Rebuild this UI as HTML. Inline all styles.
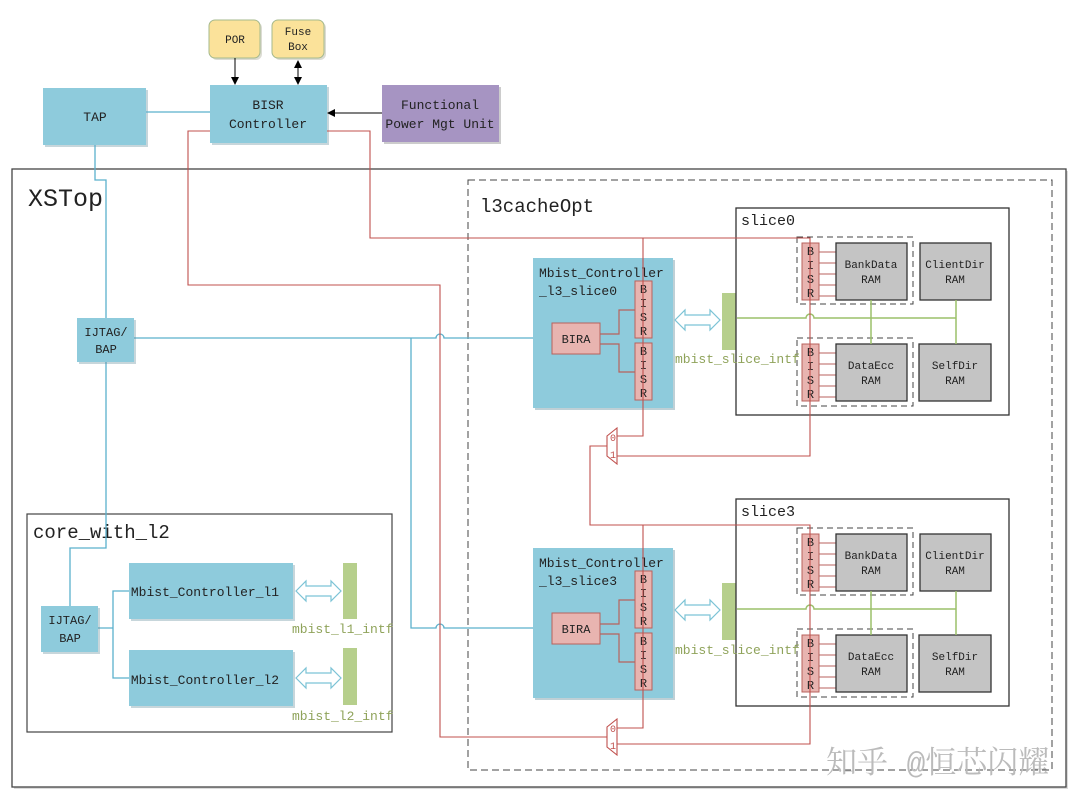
<!DOCTYPE html>
<html><head><meta charset="utf-8"><style>
html,body{margin:0;padding:0;background:#fff;}
svg{display:block;}
text{font-family:"Liberation Mono","Noto Serif CJK SC",monospace;}
</style></head><body>
<svg width="1085" height="805" viewBox="0 0 1085 805" xmlns="http://www.w3.org/2000/svg">
<defs>
<marker id="ah" markerWidth="8" markerHeight="8" refX="7" refY="4" orient="auto" markerUnits="userSpaceOnUse"><path d="M0,0 L8,4 L0,8 z" fill="#000"/></marker>
<marker id="ahs" markerWidth="8" markerHeight="8" refX="1" refY="4" orient="auto" markerUnits="userSpaceOnUse"><path d="M8,0 L0,4 L8,8 z" fill="#000"/></marker>
<g id="dblarrow">
<path d="M0,10 L10,0 L10,5 L35,5 L35,0 L45,10 L35,20 L35,15 L10,15 L10,20 Z" fill="#fff" stroke="#7cc3d6" stroke-width="1.2"/>
</g>
<g id="bisr">
<rect x="0" y="0" width="17" height="57" fill="#e8b4b0" stroke="#b8625c" stroke-width="1"/>
<text x="8.5" y="12" font-size="12" text-anchor="middle" fill="#222">B</text>
<text x="8.5" y="26" font-size="12" text-anchor="middle" fill="#222">I</text>
<text x="8.5" y="40" font-size="12" text-anchor="middle" fill="#222">S</text>
<text x="8.5" y="54" font-size="12" text-anchor="middle" fill="#222">R</text>
</g>
<g id="ctrl">
<rect x="535" y="260" width="140" height="150" fill="#5f8a99" opacity="0.4"/>
<rect x="533" y="258" width="140" height="150" fill="#8ecbdc"/>
<rect x="552" y="323" width="48" height="31" fill="#e8b4b0" stroke="#b8625c"/>
<text x="576" y="343" font-size="12" text-anchor="middle" fill="#222">BIRA</text>
<path d="M600,334 H619 V310 H635 M600,344 H619 V372 H635" fill="none" stroke="#b8625c" stroke-width="1.2"/>
<use href="#bisr" x="635" y="281"/>
<use href="#bisr" x="635" y="343"/>
<use href="#dblarrow" x="675" y="310"/>
<rect x="722" y="293" width="15" height="57" fill="#b6cf8c"/>
</g>
<g id="slice">
<rect x="736" y="208" width="273" height="207" fill="#fff" stroke="#333" stroke-width="1.3"/>
<rect x="797" y="237" width="116" height="67" fill="none" stroke="#444" stroke-dasharray="6,4"/>
<rect x="797" y="338" width="116" height="68" fill="none" stroke="#444" stroke-dasharray="6,4"/>
<g stroke="#b8625c" stroke-width="1">
<path d="M819,252 H836 M819,263 H836 M819,274 H836 M819,285 H836 M819,296 H836"/>
<path d="M819,353 H836 M819,364 H836 M819,375 H836 M819,386 H836 M819,397 H836"/>
</g>
<use href="#bisr" x="802" y="243"/>
<use href="#bisr" x="802" y="344"/>
<g fill="#c4c4c4" stroke="#333" stroke-width="1.3">
<rect x="836" y="243" width="71" height="57"/>
<rect x="920" y="243" width="71" height="57"/>
<rect x="836" y="344" width="71" height="57"/>
<rect x="919" y="344" width="72" height="57"/>
</g>
<g font-size="11" text-anchor="middle" fill="#222">
<text x="871" y="268">BankData</text><text x="871" y="283">RAM</text>
<text x="955" y="268">ClientDir</text><text x="955" y="283">RAM</text>
<text x="871" y="369">DataEcc</text><text x="871" y="384">RAM</text>
<text x="955" y="369">SelfDir</text><text x="955" y="384">RAM</text>
</g>
<path d="M737,318 H806 a4,4 0 0 1 8,0 H956 M871,300 V344 M956,300 V344" fill="none" stroke="#9cc06a" stroke-width="1.5"/>
<text x="675" y="363" font-size="13" fill="#8fa35a">mbist_slice_intf</text>
</g>
</defs>

<rect x="211" y="22" width="51" height="38" rx="6" fill="#9a9a80" opacity="0.35"/>
<rect x="209" y="20" width="51" height="38" rx="6" fill="#fbe29a" stroke="#a5b98c"/>
<text x="235" y="43" font-size="11" text-anchor="middle" fill="#222">POR</text>
<rect x="274" y="22" width="52" height="38" rx="6" fill="#9a9a80" opacity="0.35"/>
<rect x="272" y="20" width="52" height="38" rx="6" fill="#fbe29a" stroke="#a5b98c"/>
<text x="298" y="35" font-size="11" text-anchor="middle" fill="#222">Fuse</text>
<text x="298" y="50" font-size="11" text-anchor="middle" fill="#222">Box</text>
<line x1="235" y1="58" x2="235" y2="84" stroke="#000" marker-end="url(#ah)"/>
<line x1="298" y1="61" x2="298" y2="84" stroke="#000" marker-end="url(#ah)" marker-start="url(#ahs)"/>

<rect x="45" y="90" width="103" height="57" fill="#5f8a99" opacity="0.35"/>
<rect x="43" y="88" width="103" height="57" fill="#8ecbdc"/>
<text x="95" y="121" font-size="13" text-anchor="middle" fill="#222">TAP</text>
<rect x="212" y="87" width="117" height="58" fill="#5f8a99" opacity="0.35"/>
<rect x="210" y="85" width="117" height="58" fill="#8ecbdc"/>
<text x="268" y="109" font-size="13" text-anchor="middle" fill="#222">BISR</text>
<text x="268" y="128" font-size="13" text-anchor="middle" fill="#222">Controller</text>
<rect x="384" y="87" width="117" height="57" fill="#555" opacity="0.3"/>
<rect x="382" y="85" width="117" height="57" fill="#a694c2"/>
<text x="440" y="109" font-size="13" text-anchor="middle" fill="#222">Functional</text>
<text x="440" y="128" font-size="13" text-anchor="middle" fill="#222">Power Mgt Unit</text>
<line x1="382" y1="113" x2="328" y2="113" stroke="#000" marker-end="url(#ah)"/>
<line x1="146" y1="112" x2="210" y2="112" stroke="#5bb0cc" stroke-width="1.2"/>

<rect x="14" y="171" width="1054" height="618" fill="#888" opacity="0.3"/>
<rect x="12" y="169" width="1054" height="618" fill="#fff" stroke="#444" stroke-width="1.3"/>
<text x="28" y="206" font-size="25" fill="#222" font-family="Liberation Serif,serif">XSTop</text>
<rect x="468" y="180" width="584" height="590" fill="none" stroke="#444" stroke-dasharray="7,4"/>
<text x="480" y="212" font-size="19" fill="#222">l3cacheOpt</text>

<rect x="27" y="514" width="365" height="218" fill="#fff" stroke="#444" stroke-width="1.2"/>
<text x="33" y="538" font-size="19" fill="#222">core_with_l2</text>

<g fill="none" stroke="#5bb0cc" stroke-width="1.3">
<path d="M95,145 V180 H106 V318"/>
<path d="M106,362 V548 H70 V606"/>
<path d="M134,338 H436 a4,4 0 0 1 8,0 H533"/>
<path d="M411,338 V628 H436 a4,4 0 0 1 8,0 H533"/>
<path d="M98,628 H113 V591 H129 M113,628 V678 H129"/>
</g>

<rect x="79" y="320" width="57" height="44" fill="#5f8a99" opacity="0.35"/>
<rect x="77" y="318" width="57" height="44" fill="#8ecbdc"/>
<text x="106" y="336" font-size="12" text-anchor="middle" fill="#222">IJTAG/</text>
<text x="106" y="353" font-size="12" text-anchor="middle" fill="#222">BAP</text>
<rect x="43" y="608" width="57" height="46" fill="#5f8a99" opacity="0.35"/>
<rect x="41" y="606" width="57" height="46" fill="#8ecbdc"/>
<text x="70" y="624" font-size="12" text-anchor="middle" fill="#222">IJTAG/</text>
<text x="70" y="642" font-size="12" text-anchor="middle" fill="#222">BAP</text>

<rect x="131" y="565" width="164" height="56" fill="#5f8a99" opacity="0.35"/>
<rect x="129" y="563" width="164" height="56" fill="#8ecbdc"/>
<text x="205" y="596" font-size="13" text-anchor="middle" fill="#222">Mbist_Controller_l1</text>
<rect x="131" y="652" width="164" height="56" fill="#5f8a99" opacity="0.35"/>
<rect x="129" y="650" width="164" height="56" fill="#8ecbdc"/>
<text x="205" y="684" font-size="13" text-anchor="middle" fill="#222">Mbist_Controller_l2</text>
<g transform="translate(296,581)"><path d="M0,10 L10,0 L10,5 L35,5 L35,0 L45,10 L35,20 L35,15 L10,15 L10,20 Z" fill="#fff" stroke="#7cc3d6" stroke-width="1.2"/></g>
<g transform="translate(296,668)"><path d="M0,10 L10,0 L10,5 L35,5 L35,0 L45,10 L35,20 L35,15 L10,15 L10,20 Z" fill="#fff" stroke="#7cc3d6" stroke-width="1.2"/></g>
<rect x="343" y="563" width="14" height="56" fill="#b6cf8c"/>
<rect x="343" y="648" width="14" height="57" fill="#b6cf8c"/>
<text x="292" y="633" font-size="13" fill="#8fa35a">mbist_l1_intf</text>
<text x="292" y="720" font-size="13" fill="#8fa35a">mbist_l2_intf</text>

<use href="#ctrl"/>
<use href="#ctrl" y="290"/>
<use href="#slice"/>
<use href="#slice" y="291"/>
<g font-size="13" fill="#222">
<text x="539" y="277">Mbist_Controller</text><text x="539" y="295">_l3_slice0</text>
<text x="539" y="567">Mbist_Controller</text><text x="539" y="585">_l3_slice3</text>
</g>
<text x="741" y="225" font-size="15" fill="#222">slice0</text>
<text x="741" y="516" font-size="15" fill="#222">slice3</text>

<g fill="none" stroke="#c0504d" stroke-width="1.1">
<path d="M327,131 H370 V238 H810 V456 H617"/>
<path d="M643,238 V436 H617"/>
<path d="M607,446 H590 V525 H810 V744 H617"/>
<path d="M643,525 V728 H617"/>
<path d="M607,737 H440 V285 H188 V131 H210"/>
</g>
<g fill="#fff" stroke="#c0504d" stroke-width="1.1">
<path d="M607,436 L617,428 L617,464 L607,456 Z"/>
<path d="M607,727 L617,719 L617,755 L607,747 Z"/>
</g>
<g font-size="10" fill="#c0504d">
<text x="610" y="441">0</text><text x="610" y="458">1</text>
<text x="610" y="732">0</text><text x="610" y="749">1</text>
</g>

<text x="826" y="773" font-size="31" fill="#bbb" font-family="Liberation Sans,Noto Sans CJK SC,sans-serif">知乎 @恒芯闪耀</text>
</svg>
</body></html>
